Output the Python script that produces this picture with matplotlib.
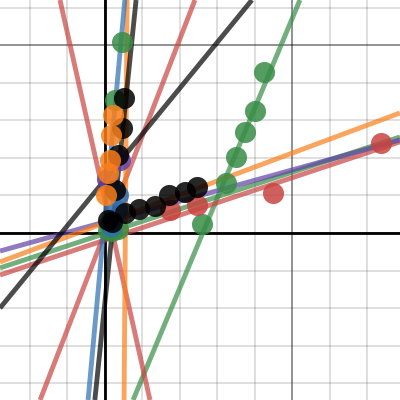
import matplotlib
matplotlib.use("Agg")
import matplotlib.pyplot as plt
import numpy as np

RED, BLUE, GREEN, PURPLE, ORANGE, BLACK = "#c74440", "#2d70b3", "#388c46", "#6042a6", "#fa7e19", "#000000"

# lines: (x1,y1,x2,y2)
lines = [
    (GREEN, (0.75, -4.45, 5.2, 6.21)),
    (GREEN, (-2.8, -0.93, 7.87, 2.56)),
    (RED, (-2.8, -1.12, 7.87, 2.43)),
    (RED, (-1.2, 6.21, 1.2, -4.45)),
    (RED, (-1.73, -4.45, 2.4, 6.21)),
    (PURPLE, (-2.8, -0.48, 7.87, 2.48)),
    (ORANGE, (-2.8, -0.77, 7.87, 3.2)),
    (ORANGE, (0.51, -4.45, 0.59, 6.21)),
    (BLACK, (-2.8, -2.0, 3.92, 6.21)),
    (BLACK, (-0.27, -4.45, 0.83, 6.21)),
    (BLUE, (-0.45, -4.45, 0.53, 6.21)),
]

green_x = [0.45, 0.27, 4.24, 4.0, 3.73, 3.49, 3.23, 2.59, 0.08, 0.2, 0.35, 0.1]
green_y = [5.09, 3.55, 4.29, 3.25, 2.69, 2.03, 1.33, 0.24, 0.08, 0.05, 0.1, 0.25]
red_x = [7.36, 4.48, 1.73, 2.45]
red_y = [2.4, 1.07, 0.61, 0.75]
purple_x = [0.4, 0.05]
purple_y = [1.95, 1.45]
blue_x = [0.35, 0.32, 0.15]
blue_y = [1.01, 0.61, 0.2]
black_x = [0.51, 0.45, 0.35, 0.27, 0.08, 0.53, 0.91, 1.33, 1.71, 2.13, 2.45, 0.2]
black_y = [3.6, 2.8, 2.08, 1.15, 0.35, 0.53, 0.64, 0.72, 1.01, 1.09, 1.23, 0.3]
orange_x = [0.21, 0.16, 0.13, 0.08, 0.03]
orange_y = [3.15, 2.61, 1.95, 1.6, 1.01]

fig = plt.figure(figsize=(4, 4), dpi=100)
ax = fig.add_axes([0, 0, 1, 1])
ax.set_xlim(-2.8, 7.87)
ax.set_ylim(-4.45, 6.21)
for v in np.arange(-2, 8):
    ax.axvline(v, color="#000000", alpha=0.5 if v % 5 == 0 else 0.15, lw=1.2 if v % 5 == 0 else 1.2, zorder=0)
for v in np.arange(-4, 7):
    ax.axhline(v, color="#000000", alpha=0.5 if v % 5 == 0 else 0.15, lw=1.2, zorder=0)
ax.axvline(0, color="black", lw=2, zorder=1)
ax.axhline(0, color="black", lw=2, zorder=1)

for c, (x1, y1, x2, y2) in lines:
    ax.plot([x1, x2], [y1, y2], color=c, lw=3.5, alpha=0.7, solid_capstyle="butt", zorder=2)

for xs, ys, c in [(green_x, green_y, GREEN), (red_x, red_y, RED), (purple_x, purple_y, PURPLE),
                  (blue_x, blue_y, BLUE), (black_x, black_y, BLACK), (orange_x, orange_y, ORANGE)]:
    ax.scatter(xs, ys, s=230, color=c, alpha=0.85, linewidths=0, zorder=3)

ax.axis("off")
fig.savefig("out.png", dpi=100)
